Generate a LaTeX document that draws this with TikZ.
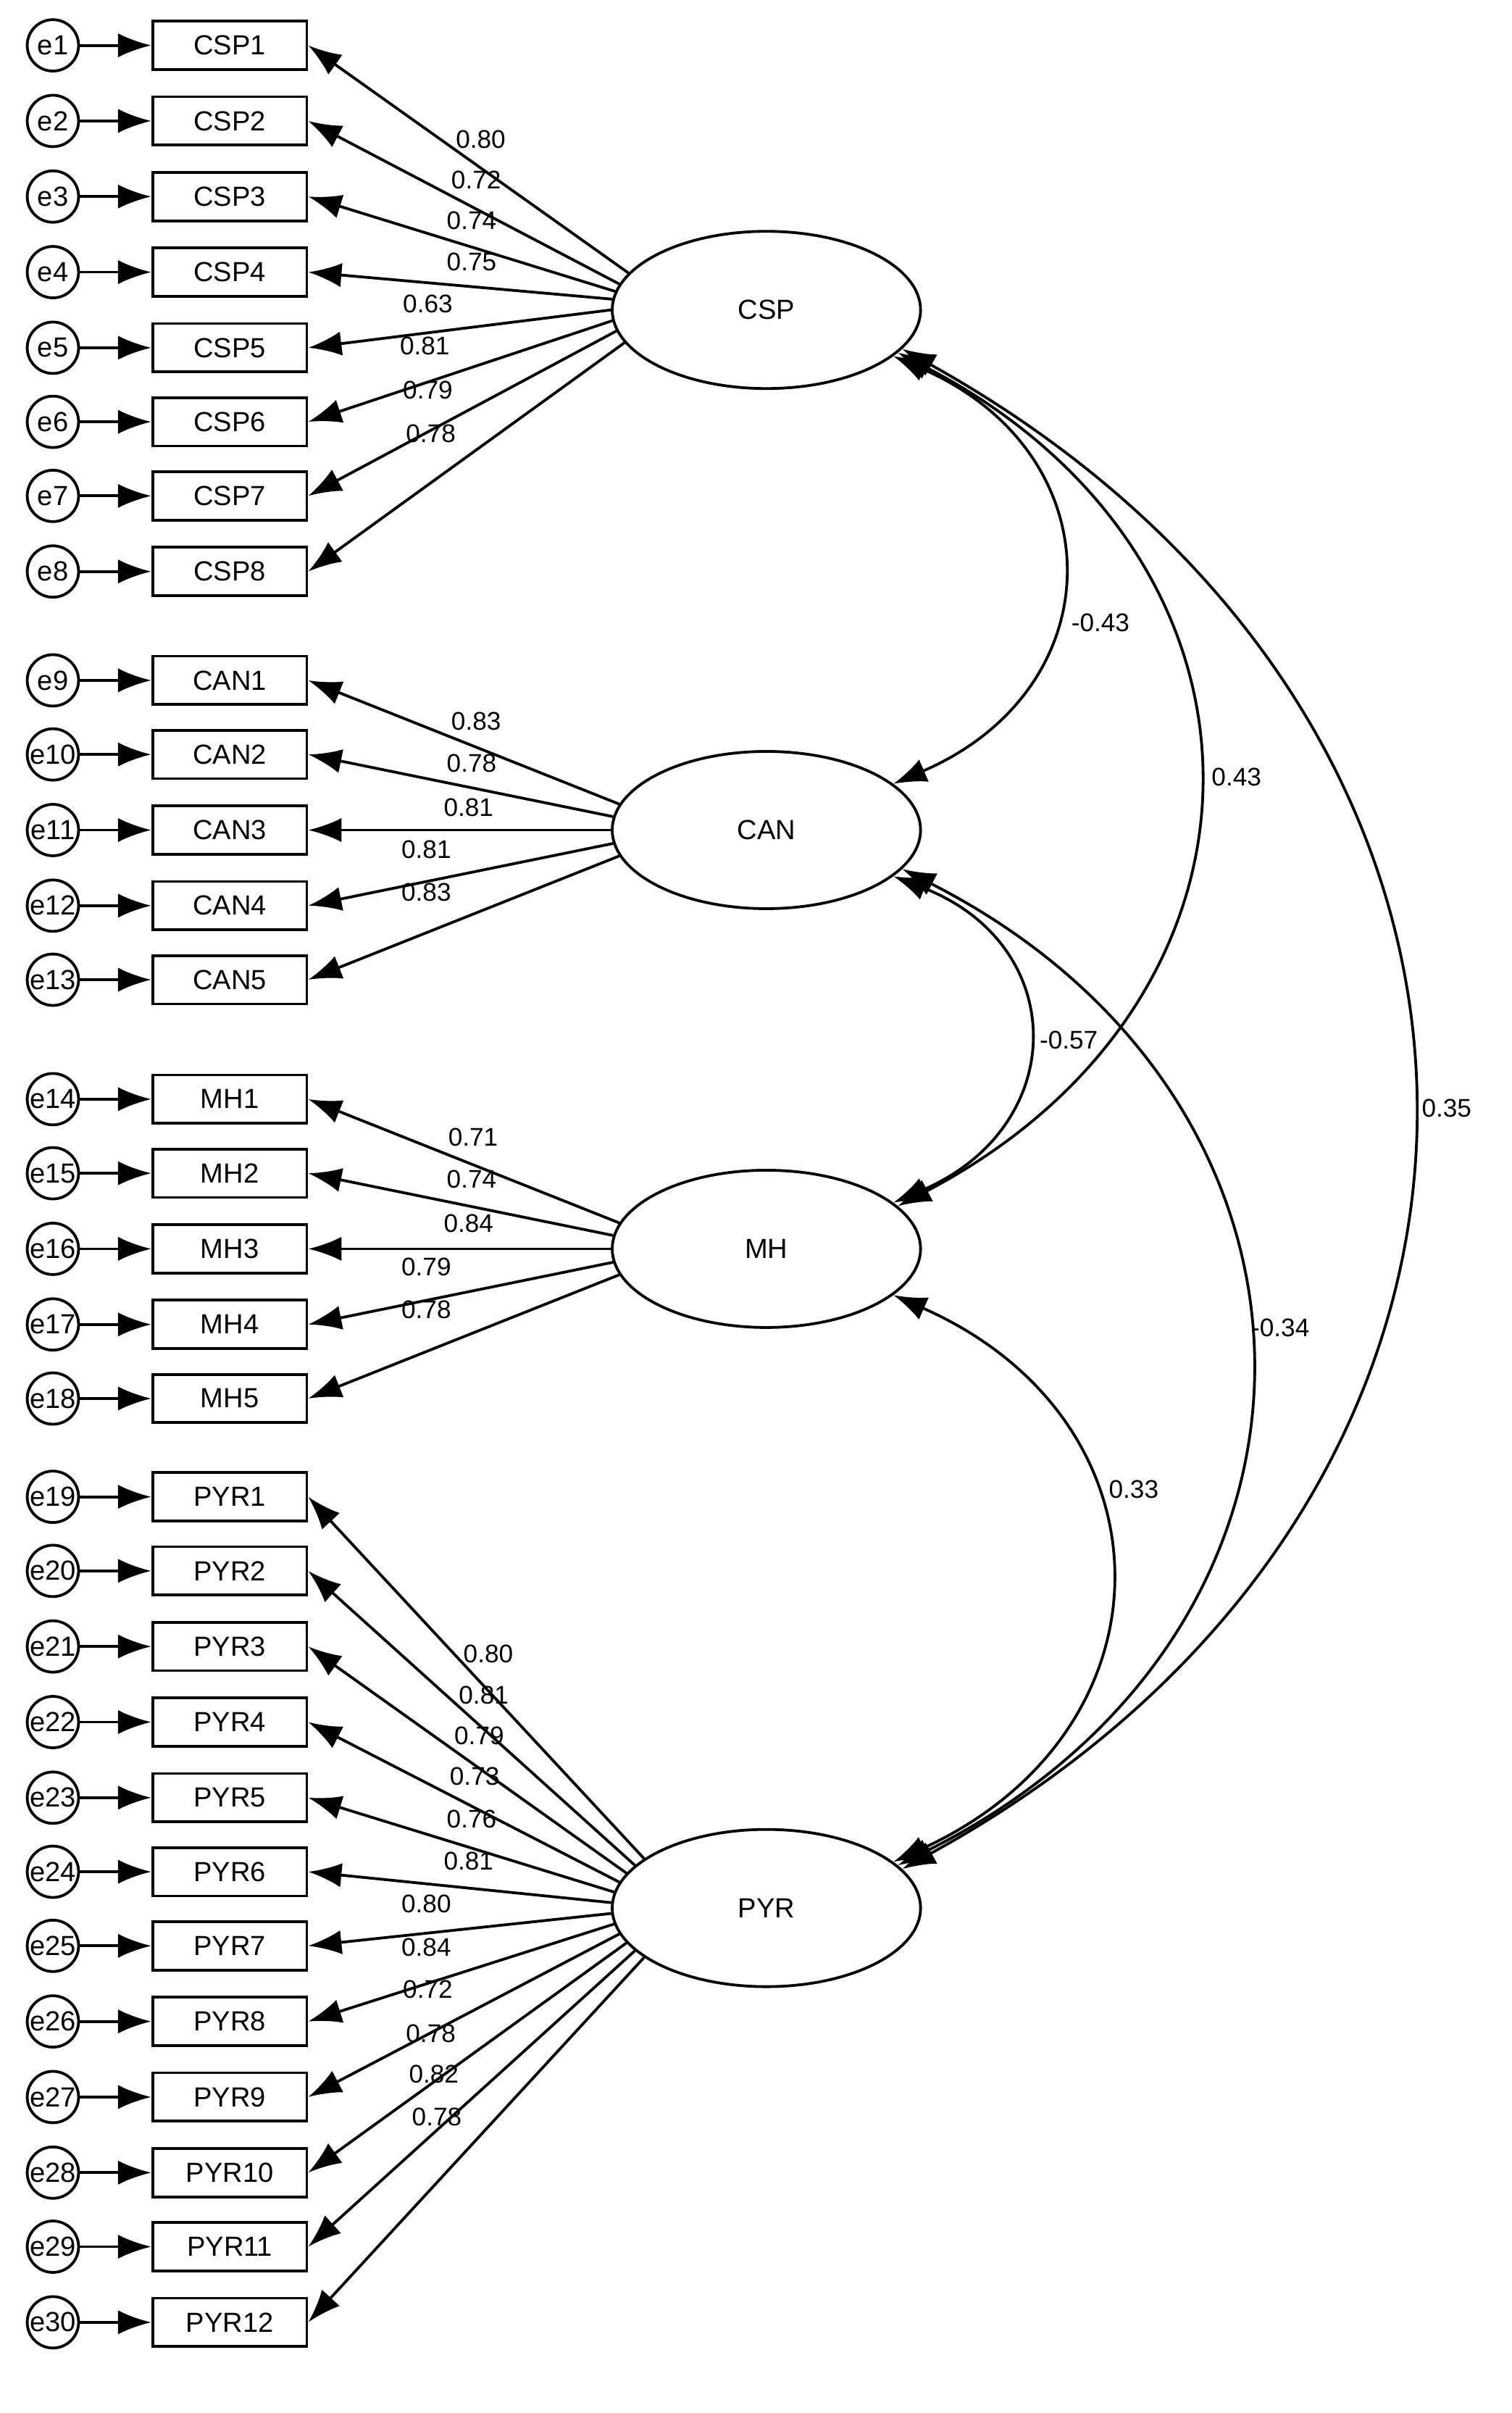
\documentclass[tikz,border=0pt]{standalone}
\usepackage{fontspec}
\setmainfont{Liberation Sans}
\usetikzlibrary{arrows.meta,shapes.geometric}
\begin{document}
\begin{tikzpicture}[x=0.05cm,y=-0.05cm,
  obs/.style={draw,line width=2.6pt,minimum width=5.1cm,minimum height=1.6cm,inner sep=0pt,font=\fontsize{26}{30}\selectfont},
  err/.style={draw,circle,line width=2.6pt,minimum size=1.7cm,inner sep=0pt,font=\fontsize{26}{30}\selectfont},
  lat/.style={draw,ellipse,line width=2.6pt,minimum width=10.2cm,minimum height=5.2cm,inner sep=0pt,font=\fontsize{26}{30}\selectfont},
  arr/.style={line width=2.6pt,-{Latex[length=1.1cm,width=0.8cm]}},
  darr/.style={line width=2.6pt,{Latex[length=1.1cm,width=0.8cm]}-{Latex[length=1.1cm,width=0.8cm]}},
  lab/.style={font=\fontsize{24}{28}\selectfont,inner sep=1pt}]
\useasboundingbox (0,0) rectangle (1000,1596);
\node[lat] (CSP) at (507,205) {CSP};
\node[lat] (CAN) at (507,549) {CAN};
\node[lat] (MH) at (507,826) {MH};
\node[lat] (PYR) at (507,1262) {PYR};
\foreach \n/\lv/\a/\y/\e/\lx/\ly/\v in {
 CSP1/CSP/165/30/e1/318/92/0.80, CSP2/CSP/170/80/e2/315/119/0.72, CSP3/CSP/173/130/e3/312/146/0.74, CSP4/CSP/176/180/e4/312/173/0.75,
 CSP5/CSP/180/230/e5/283/201/0.63, CSP6/CSP/184/279/e6/281/229/0.81, CSP7/CSP/188/328/e7/283/258/0.79, CSP8/CSP/193/378/e8/285/287/0.78,
 CAN1/CAN/170/450/e9/315/477/0.83, CAN2/CAN/175/499/e10/312/505/0.78, CAN3/CAN/180/549/e11/310/534/0.81, CAN4/CAN/185/599/e12/282/562/0.81, CAN5/CAN/190/648/e13/282/590/0.83,
 MH1/MH/170/727/e14/313/752/0.71, MH2/MH/175/776/e15/312/780/0.74, MH3/MH/180/826/e16/310/809/0.84, MH4/MH/185/876/e17/282/838/0.79, MH5/MH/190/925/e18/282/866/0.78,
 PYR1/PYR/158/990/e19/323/1094/0.80, PYR2/PYR/162/1039/e20/320/1121/0.81, PYR3/PYR/166/1089/e21/317/1148/0.79, PYR4/PYR/170/1139/e22/314/1175/0.73,
 PYR5/PYR/174/1189/e23/312/1203/0.76, PYR6/PYR/178/1238/e24/310/1231/0.81, PYR7/PYR/182/1287/e25/282/1259/0.80, PYR8/PYR/186/1337/e26/282/1288/0.84,
 PYR9/PYR/190/1387/e27/283/1316/0.72, PYR10/PYR/194/1437/e28/285/1345/0.78, PYR11/PYR/198/1486/e29/287/1372/0.82, PYR12/PYR/202/1536/e30/289/1400/0.78}{
  \node[obs] (\n) at (152,\y) {\n};
  \node[err] (\e) at (35,\y) {\e};
  \draw[arr] (\e) -- (\n);
  \draw[arr] (\lv.\a) -- (\n.east);
  \node[lab] (l\n) at (\lx,\ly) {\v};
}
\draw[darr] (CSP.-20) .. controls (738,300) and (738,455) .. (CAN.20);
\node[lab] (c1) at (728,412) {-0.43};
\draw[darr] (CSP.-18) .. controls (857,370) and (857,660) .. (MH.18);
\node[lab] (c2) at (818,514) {0.43};
\draw[darr] (CSP.-16) .. controls (1045,480) and (1045,990) .. (PYR.16);
\node[lab] (c3) at (957,733) {0.35};
\draw[darr] (CAN.-20) .. controls (708,625) and (708,745) .. (MH.20);
\node[lab] (c4) at (707,688) {-0.57};
\draw[darr] (CAN.-16) .. controls (902,730) and (902,1080) .. (PYR.18);
\node[lab] (c5) at (847,878) {-0.34};
\draw[darr] (MH.-20) .. controls (780,940) and (780,1145) .. (PYR.20);
\node[lab] (c6) at (750,985) {0.33};
\end{tikzpicture}
\end{document}
